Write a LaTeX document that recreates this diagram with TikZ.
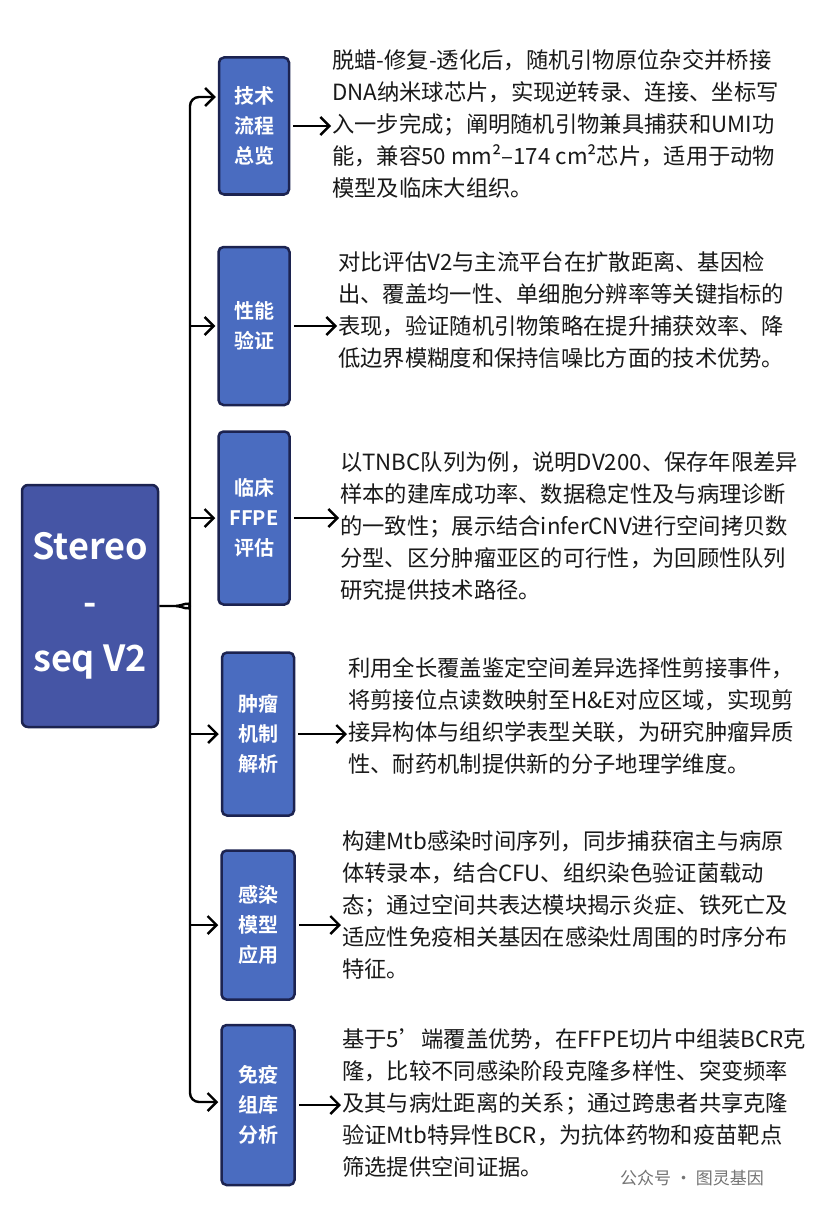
\documentclass[tikz,border=0pt]{standalone}
\usepackage{fontspec}
\setmainfont{Noto Sans CJK SC}
\newfontfamily\boldcjk{Noto Sans CJK SC Bold}
\usetikzlibrary{arrows.meta}
\definecolor{rootfill}{HTML}{4555A5}
\definecolor{boxfill}{HTML}{4A6CC0}
\definecolor{edge}{HTML}{1C2350}
\begin{document}
\begin{tikzpicture}[x=1pt,y=-1pt,
  bx/.style={draw=edge,line width=2.5pt,fill=boxfill,rounded corners=5pt,text=white,font=\boldcjk\fontsize{20}{30}\selectfont,align=center,inner sep=0pt},
  txt/.style={anchor=west,align=left,inner sep=0pt,font=\fontsize{22.3}{32}\selectfont,text=black!90},
  arr/.style={line width=2.4pt,-{Straight Barb[length=9pt,width=18pt]}},
  ln/.style={line width=2.4pt}]
\useasboundingbox[fill=white] (0,0) rectangle (829,1209);
\node[draw=edge,line width=2.5pt,fill=rootfill,rounded corners=6pt,minimum width=136pt,minimum height=242pt,text=white,font=\boldcjk\fontsize{36}{56}\selectfont,align=center] (root) at (90,606) {Stereo\\-\\seq V2};
\node[bx,minimum width=70pt,minimum height=137pt] (b1) at (254,126) {技术\\流程\\总览};
\node[bx,minimum width=71pt,minimum height=158pt] (b2) at (254,326) {性能\\验证};
\node[bx,minimum width=71pt,minimum height=173pt] (b3) at (254,518) {临床\\FFPE\\评估};
\node[bx,minimum width=72pt,minimum height=163pt] (b4) at (258,734) {肿瘤\\机制\\解析};
\node[bx,minimum width=73pt,minimum height=149pt] (b5) at (258,925) {感染\\模型\\应用};
\node[bx,minimum width=73pt,minimum height=160pt] (b6) at (258,1105) {免疫\\组库\\分析};
\node[txt] (t1) at (332,124) {脱蜡-修复-透化后，随机引物原位杂交并桥接\\DNA纳米球芯片，实现逆转录、连接、坐标写\\入一步完成；阐明随机引物兼具捕获和UMI功\\能，兼容50 mm²–174 cm²芯片，适用于动物\\模型及临床大组织。};
\node[txt] (t2) at (338,310) {对比评估V2与主流平台在扩散距离、基因检\\出、覆盖均一性、单细胞分辨率等关键指标的\\表现，验证随机引物策略在提升捕获效率、降\\低边界模糊度和保持信噪比方面的技术优势。};
\node[txt] (t3) at (340,526) {以TNBC队列为例，说明DV200、保存年限差异\\样本的建库成功率、数据稳定性及与病理诊断\\的一致性；展示结合inferCNV进行空间拷贝数\\分型、区分肿瘤亚区的可行性，为回顾性队列\\研究提供技术路径。};
\node[txt] (t4) at (348,716) {利用全长覆盖鉴定空间差异选择性剪接事件，\\将剪接位点读数映射至H\&E对应区域，实现剪\\接异构体与组织学表型关联，为研究肿瘤异质\\性、耐药机制提供新的分子地理学维度。};
\node[txt] (t5) at (342,905) {构建Mtb感染时间序列，同步捕获宿主与病原\\体转录本，结合CFU、组织染色验证菌载动\\态；通过空间共表达模块揭示炎症、铁死亡及\\适应性免疫相关基因在感染灶周围的时序分布\\特征。};
\node[txt] (t6) at (342,1103) {基于5'端覆盖优势，在FFPE切片中组装BCR克\\隆，比较不同感染阶段克隆多样性、突变频率\\及其与病灶距离的关系；通过跨患者共享克隆\\验证Mtb特异性BCR，为抗体药物和疫苗靶点\\筛选提供空间证据。};
\node[anchor=west,text=black!55,font=\fontsize{17}{20}\selectfont,inner sep=0pt] (wm) at (620,1178) {公众号 · 图灵基因};
% spine
\coordinate (s) at (190,606);
\draw[ln] (root.east) -- (176,606) to[out=0,in=90] (s);
\draw[ln] (176,606) to[out=0,in=-90] (s);
\draw[arr,rounded corners=9pt] (s) -- (190,97) -- ([xshift=-2pt]b1.west |- 0,97);
\draw[arr,rounded corners=9pt] (s) -- (190,1102) -- ([xshift=-2pt]b6.west |- 0,1102);
\draw[arr,shorten >=2pt] (190,326) -- (b2.west);
\draw[arr,shorten >=2pt] (190,518) -- (b3.west);
\draw[arr,shorten >=2pt] (190,734) -- (b4.west);
\draw[arr,shorten >=2pt] (190,925) -- (b5.west);
\foreach \i in {1,...,6}{\draw[arr,shorten <=3pt,shorten >=1pt] (b\i.east) -- (t\i.west |- b\i.east);}
\end{tikzpicture}
\end{document}
